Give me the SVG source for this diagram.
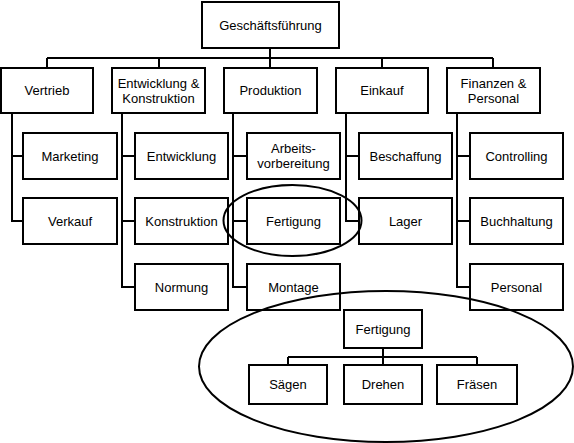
<svg xmlns="http://www.w3.org/2000/svg" width="574" height="443" viewBox="0 0 574 443">
<style>
rect{fill:#fff;stroke:#000;stroke-width:2}
text{font-family:"Liberation Sans",Arial,sans-serif;font-size:13px;fill:#000;text-anchor:middle}
.c line,.c polyline{stroke:#000;stroke-width:2;fill:none}
ellipse{fill:none;stroke:#000;stroke-width:2}
</style>
<rect x="0" y="0" width="574" height="443" style="stroke:none"/>
<g class="c" id="connectors">
<polyline points="270,48 270,58"/>
<line x1="47" y1="58" x2="493" y2="58"/>
<line x1="47" y1="58" x2="47" y2="68"/>
<line x1="159" y1="58" x2="159" y2="68"/>
<line x1="270" y1="58" x2="270" y2="68"/>
<line x1="382" y1="58" x2="382" y2="68"/>
<line x1="493" y1="58" x2="493" y2="68"/>
<polyline points="12,113 12,221 23,221"/>
<line x1="12" y1="156" x2="23" y2="156"/>
<polyline points="122,113 122,287 135,287"/>
<line x1="122" y1="156" x2="135" y2="156"/>
<line x1="122" y1="221" x2="135" y2="221"/>
<polyline points="233,113 233,287 247,287"/>
<line x1="233" y1="156" x2="247" y2="156"/>
<line x1="233" y1="221" x2="247" y2="221"/>
<polyline points="346,113 346,221 359,221"/>
<line x1="346" y1="156" x2="359" y2="156"/>
<polyline points="457,113 457,287 470,287"/>
<line x1="457" y1="156" x2="470" y2="156"/>
<line x1="457" y1="221" x2="470" y2="221"/>
<line x1="383" y1="348" x2="383" y2="365"/>
<line x1="288" y1="357" x2="477" y2="357"/>
<line x1="288" y1="357" x2="288" y2="365"/>
<line x1="477" y1="357" x2="477" y2="365"/>
</g>
<g id="gf"><rect x="202" y="2" width="137" height="46"/><text x="270.5" y="30">Geschäftsführung</text></g>
<g id="vertrieb"><rect x="1" y="68" width="92" height="45"/><text x="47" y="95">Vertrieb</text></g>
<g id="euk"><rect x="112" y="68" width="93" height="45"/><text x="158.5" y="88">Entwicklung &amp;</text><text x="158.5" y="103">Konstruktion</text></g>
<g id="produktion"><rect x="224" y="68" width="93" height="45"/><text x="270.5" y="95">Produktion</text></g>
<g id="einkauf"><rect x="336" y="68" width="92" height="45"/><text x="382" y="95">Einkauf</text></g>
<g id="finanzen"><rect x="447" y="68" width="93" height="45"/><text x="493.5" y="88">Finanzen &amp;</text><text x="493.5" y="103">Personal</text></g>
<g id="marketing"><rect x="23" y="133" width="94" height="46"/><text x="70" y="161">Marketing</text></g>
<g id="verkauf"><rect x="23" y="198" width="94" height="46"/><text x="70" y="226">Verkauf</text></g>
<g id="entwicklung"><rect x="135" y="133" width="93" height="46"/><text x="181.5" y="161">Entwicklung</text></g>
<g id="konstruktion"><rect x="135" y="198" width="93" height="46"/><text x="181.5" y="226">Konstruktion</text></g>
<g id="normung"><rect x="135" y="264" width="93" height="46"/><text x="181.5" y="292">Normung</text></g>
<g id="arbeitsvorbereitung"><rect x="247" y="133" width="93" height="46"/><text x="293.5" y="153">Arbeits-</text><text x="293.5" y="168">vorbereitung</text></g>
<g id="fertigung"><rect x="247" y="198" width="93" height="46"/><text x="293.5" y="226">Fertigung</text></g>
<g id="montage"><rect x="247" y="264" width="93" height="46"/><text x="293.5" y="292">Montage</text></g>
<g id="beschaffung"><rect x="359" y="133" width="93" height="46"/><text x="405.5" y="161">Beschaffung</text></g>
<g id="lager"><rect x="359" y="198" width="93" height="46"/><text x="405.5" y="226">Lager</text></g>
<g id="controlling"><rect x="470" y="133" width="93" height="46"/><text x="516.5" y="161">Controlling</text></g>
<g id="buchhaltung"><rect x="470" y="198" width="93" height="46"/><text x="516.5" y="226">Buchhaltung</text></g>
<g id="personal"><rect x="470" y="264" width="93" height="46"/><text x="516.5" y="292">Personal</text></g>
<ellipse cx="292.5" cy="220.5" rx="69" ry="35.5"/>
<ellipse cx="386" cy="366.5" rx="187" ry="75.5"/>
<g id="fertigung2"><rect x="344" y="310" width="78" height="38"/><text x="383" y="334">Fertigung</text></g>
<g id="saegen"><rect x="249" y="365" width="78" height="39"/><text x="288" y="389">Sägen</text></g>
<g id="drehen"><rect x="344" y="365" width="78" height="39"/><text x="383" y="389">Drehen</text></g>
<g id="fraesen"><rect x="437" y="365" width="80" height="39"/><text x="477" y="389">Fräsen</text></g>
</svg>
